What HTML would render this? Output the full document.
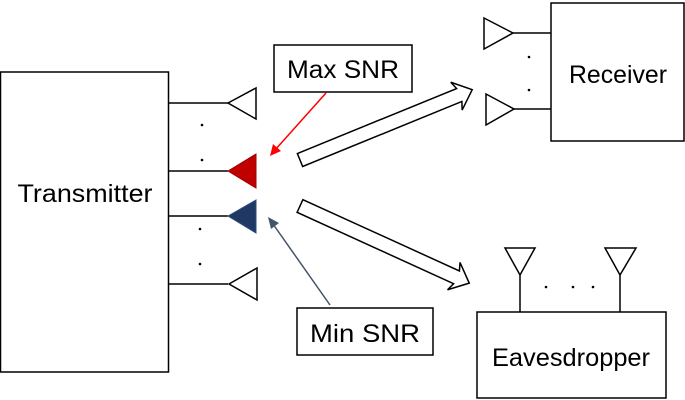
<!DOCTYPE html>
<html><head><style>body{margin:0;background:#fff}svg{display:block}text{font-family:"Liberation Sans",sans-serif;font-size:25px;fill:#000}</style></head><body>
<svg width="685" height="400" viewBox="0 0 685 400">
<g fill="none" stroke="#000" stroke-width="1.5">
<rect x="0.5" y="72" width="168" height="300" fill="#fff"/>
<line x1="168" y1="103" x2="228" y2="103"/><line x1="168" y1="171" x2="228" y2="171"/>
<line x1="168" y1="216" x2="228" y2="216"/><line x1="168" y1="284" x2="228" y2="284"/>
<polygon points="228,103 256,88 256,119"/>
<polygon points="229,284 257,268 257,300"/>
<rect x="274" y="45" width="138" height="47"/>
<rect x="297" y="308" width="136" height="47"/>
<rect x="551" y="3" width="133" height="138"/>
<polygon points="484,18 513,33 484,49"/><line x1="513" y1="33" x2="551" y2="33"/>
<polygon points="486,94 514,109 486,125"/><line x1="514" y1="109" x2="551" y2="109"/>
<rect x="477" y="312" width="189" height="86"/>
<polygon points="505,248 535,248 520,275"/><line x1="520" y1="275" x2="520" y2="312"/>
<polygon points="605,248 636,248 620,275"/><line x1="620" y1="275" x2="620" y2="312"/>
<g transform="translate(300,160) rotate(-22.2)"><polygon points="0,-7 172,-7 169,-15 186,0 169,15 172,7 0,7" fill="#fff"/></g>
<g transform="translate(300,206) rotate(24.5)"><polygon points="0,-7 172,-7 169,-15 186,0 169,15 172,7 0,7" fill="#fff"/></g>
</g>
<polygon points="228,171 256,154 256,188" fill="#c00000" stroke="#a00000"/>
<polygon points="228,216 256,200 256,233" fill="#1f3864" stroke="#2f4b7a"/>
<line x1="326" y1="93" x2="275" y2="150" stroke="#f00" stroke-width="1.5"/>
<polygon points="270,156 273,144 281,151" fill="#f00"/>
<line x1="330" y1="305" x2="273" y2="224" stroke="#44546a" stroke-width="1.5"/>
<polygon points="268,217 279,223 271,229" fill="#44546a"/>
<g fill="#000"><circle cx="202" cy="125" r="1.3"/><circle cx="202" cy="160" r="1.3"/><circle cx="200" cy="229" r="1.3"/><circle cx="200" cy="264" r="1.3"/>
<circle cx="529" cy="57" r="1.3"/><circle cx="529" cy="90" r="1.3"/>
<circle cx="546" cy="287" r="1.3"/><circle cx="573" cy="287" r="1.3"/><circle cx="593" cy="287" r="1.3"/></g>
<text x="85" y="202" text-anchor="middle" textLength="135" lengthAdjust="spacingAndGlyphs">Transmitter</text>
<text x="618" y="83" text-anchor="middle" textLength="98" lengthAdjust="spacingAndGlyphs">Receiver</text>
<text x="343" y="78" text-anchor="middle" textLength="112" lengthAdjust="spacingAndGlyphs">Max SNR</text>
<text x="365" y="342" text-anchor="middle" textLength="110" lengthAdjust="spacingAndGlyphs">Min SNR</text>
<text x="571" y="366" text-anchor="middle" textLength="158" lengthAdjust="spacingAndGlyphs">Eavesdropper</text>
</svg></body></html>
